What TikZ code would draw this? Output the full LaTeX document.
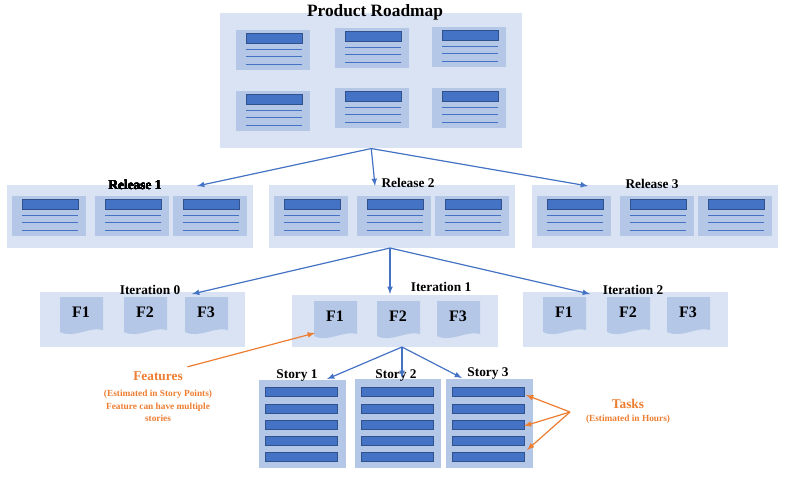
\documentclass[tikz,border=0pt]{standalone}
\usepackage{fontspec}
\setmainfont{Liberation Serif}
\usetikzlibrary{positioning}
\definecolor{pale-blue}{HTML}{DAE3F3}
\definecolor{card-blue}{HTML}{B4C7E7}
\definecolor{bar-blue}{HTML}{4472C4}
\definecolor{bar-edge}{HTML}{2F528F}
\definecolor{note-orange}{HTML}{ED7D31}
\newlength{\px}
\setlength{\px}{0.75pt}
\tikzset{
  box/.style={fill=pale-blue,inner sep=0pt,anchor=north west},
  storybox/.style={fill=card-blue,inner sep=0pt,anchor=north west},
  lbl/.style={font=\bfseries\fontsize{10}{12}\selectfont},
  flow/.style={->,>=latex,draw=bar-blue,line width=0.9pt},
  note/.style={->,>=latex,draw=note-orange,line width=0.9pt},
}
% card with header bar and three lines, top-left corner
\newcommand{\card}[2]{%
  \fill[card-blue] (#1,#2) rectangle ++(74,40);
  \filldraw[fill=bar-blue,draw=bar-edge,line width=0.6pt] (#1+10,#2+3) rectangle ++(56,10);
  \foreach \dy in {19,26,34}
    \draw[bar-blue,line width=0.6pt] (#1+10,#2+\dy) -- ++(56,0);
}
% feature document with wavy bottom
\newcommand{\fdoc}[3]{%
  \fill[card-blue] (#1,#2) -- ++(43,0) -- ++(0,33)
    .. controls (#1+30,#2+29) and (#1+14,#2+42) .. (#1,#2+35) -- cycle;
  \node[font=\bfseries\fontsize{12}{14}\selectfont] at (#1+21,#2+15) {#3};
}
\begin{document}
\begin{tikzpicture}[x=\px,y=-\px]
  \useasboundingbox (0,0) rectangle (786,476);

  % roadmap
  \node[box,minimum width=302\px,minimum height=135\px] (Roadmap) at (220,13) {};
  \node[font=\bfseries\fontsize{13}{15}\selectfont] (RoadmapTitle) at (375,12) {Product Roadmap};
  \card{236}{30}\card{335}{28}\card{432}{27}
  \card{236}{91}\card{335}{88}\card{432}{88}

  % releases
  \node[box,minimum width=246\px,minimum height=63\px] (Release1) at (7,185) {};
  \node[box,minimum width=246\px,minimum height=63\px] (Release2) at (269,185) {};
  \node[box,minimum width=246\px,minimum height=63\px] (Release3) at (532,185) {};
  \foreach \x in {12,95,173,274,357,435,537,620,698}
    \card{\x}{196}
  \node[lbl] (R1Label) at (135,185) {Release 1};
  \node[lbl] (R2Label) at (408,183) {Release 2};
  \node[lbl] (R3Label) at (652,184) {Release 3};
  \coordinate (R1Tip) at (197,186);
  \coordinate (R2Tip) at (375,186);
  \coordinate (R3Tip) at (588,186);
  \draw[flow] (Roadmap.south) -- (R1Tip);
  \draw[flow] (Roadmap.south) -- (R2Tip);
  \draw[flow] (Roadmap.south) -- (R3Tip);

  % iterations
  \node[box,minimum width=205\px,minimum height=55\px] (Iteration0) at (40,292) {};
  \node[box,minimum width=206\px,minimum height=52\px] (Iteration1) at (292,295) {};
  \node[box,minimum width=205\px,minimum height=55\px] (Iteration2) at (523,292) {};
  \fdoc{60}{297}{F1}\fdoc{124}{297}{F2}\fdoc{185}{297}{F3}
  \fdoc{314}{301}{F1}\fdoc{377}{301}{F2}\fdoc{437}{301}{F3}
  \fdoc{543}{297}{F1}\fdoc{607}{297}{F2}\fdoc{667}{297}{F3}
  \node[lbl] (I0Label) at (150,290) {Iteration 0};
  \node[lbl] (I1Label) at (441,287) {Iteration 1};
  \node[lbl] (I2Label) at (633,290) {Iteration 2};
  \coordinate (Fork) at (390,248);
  \coordinate (I0Tip) at (192,294);
  \coordinate (I1Tip) at (390,294);
  \coordinate (I2Tip) at (590,294);
  \draw[flow] (Fork) -- (I0Tip);
  \draw[flow] (Fork) -- (I1Tip);
  \draw[flow] (Fork) -- (I2Tip);

  % stories
  \node[storybox,minimum width=87\px,minimum height=88\px] (Story1) at (259,380) {};
  \node[storybox,minimum width=86\px,minimum height=89\px] (Story2) at (355,379) {};
  \node[storybox,minimum width=87\px,minimum height=89\px] (Story3) at (446,379) {};
  \foreach \x in {265,361,452}
    \foreach \y in {387,404,420,436,452}
      \filldraw[fill=bar-blue,draw=bar-edge,line width=0.6pt] (\x,\y) rectangle ++(72,9);
  \node[lbl] (S1Label) at (297,376) {Story 1};
  \node[lbl] (S2Label) at (396,376) {Story 2};
  \node[lbl] (S3Label) at (488,374) {Story 3};
  \coordinate (StoryFork) at (402,347);
  \coordinate (S1Tip) at (327,379);
  \coordinate (S2Tip) at (402,378);
  \coordinate (S3Tip) at (462,378);
  \draw[flow] (StoryFork) -- (S1Tip);
  \draw[flow] (StoryFork) -- (S2Tip);
  \draw[flow] (StoryFork) -- (S3Tip);

  % notes
  \node[text=note-orange,font=\bfseries\fontsize{10}{12}\selectfont] (Features) at (158,376) {Features};
  \node[text=note-orange,font=\bfseries\fontsize{7}{9.5}\selectfont,align=center,below=0pt of Features] (FeatNote)
    {(Estimated in Story Points)\\Feature can have multiple\\stories};
  \coordinate (F1Tip) at (315,333);
  \draw[note] (Features.north east) -- (F1Tip);
  \node[text=note-orange,font=\bfseries\fontsize{10}{12}\selectfont] (Tasks) at (628,404) {Tasks};
  \node[text=note-orange,font=\bfseries\fontsize{7}{9}\selectfont,below=-2pt of Tasks] (TaskNote) {(Estimated in Hours)};
  \coordinate (TaskFrom) at (570,412);
  \coordinate (T1Tip) at (526,395);
  \coordinate (T2Tip) at (524,426);
  \coordinate (T3Tip) at (527,450);
  \draw[note] (TaskFrom) -- (T1Tip);
  \draw[note] (TaskFrom) -- (T2Tip);
  \draw[note] (TaskFrom) -- (T3Tip);
\end{tikzpicture}
\end{document}
